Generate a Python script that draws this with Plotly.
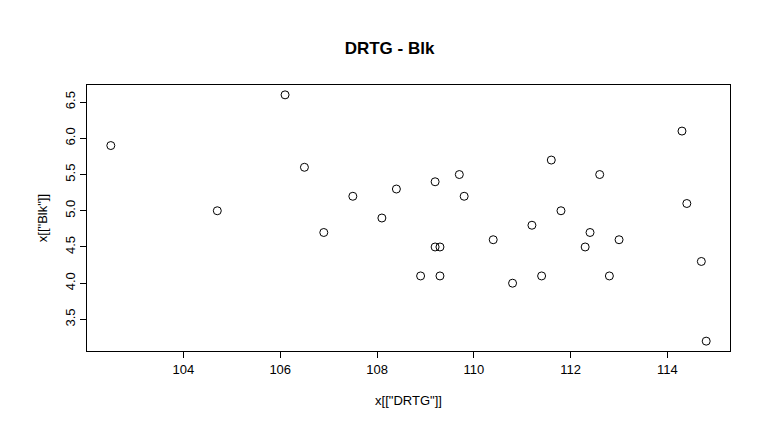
import plotly.graph_objects as go

drtg = [102.5,104.7,106.1,106.5,106.9,107.5,108.1,108.4,108.9,109.2,109.2,109.3,109.3,109.7,109.8,
        110.4,110.8,111.2,111.4,111.6,111.8,112.3,112.4,112.6,112.8,113.0,114.3,114.4,114.7,114.8]
blk = [5.9,5.0,6.6,5.6,4.7,5.2,4.9,5.3,4.1,5.4,4.5,4.5,4.1,5.5,5.2,
       4.6,4.0,4.8,4.1,5.7,5.0,4.5,4.7,5.5,4.1,4.6,6.1,5.1,4.3,3.2]

fig = go.Figure(go.Scatter(x=drtg, y=blk, mode="markers",
    marker=dict(symbol="circle-open", size=8, color="black", line=dict(width=1))))

fam = "Liberation Sans, Arial"
tf = dict(family=fam, size=13, color="black")
fig.update_layout(
    width=763, height=443, plot_bgcolor="white", paper_bgcolor="white",
    margin=dict(l=79, r=41, t=77, b=100), font=tf, showlegend=False,
    title=dict(text="<b>DRTG - Blk</b>", x=0.5, xanchor="center", y=0.91, yanchor="middle",
               font=dict(family=fam, size=17, color="black")),
)
fig.update_xaxes(range=[102.008, 115.292], tickvals=[104,106,108,110,112,114],
    showgrid=False, zeroline=False, showline=True, mirror=True, linecolor="black", linewidth=1,
    ticks="outside", ticklen=6, tickcolor="black", tickfont=tf, automargin=False,
    title=dict(text='x[["DRTG"]]', standoff=20, font=tf))
fig.update_yaxes(range=[3.064, 6.736], tickvals=[3.5,4.0,4.5,5.0,5.5,6.0,6.5],
    ticktext=["3.5","4.0","4.5","5.0","5.5","6.0","6.5"], tickangle=-90,
    showgrid=False, zeroline=False, showline=True, mirror=True, linecolor="black", linewidth=1,
    ticks="outside", ticklen=6, tickcolor="black", tickfont=tf, automargin=False,
    title=dict(text='x[["Blk"]]', standoff=12, font=tf))
fig.write_html("out.html")
